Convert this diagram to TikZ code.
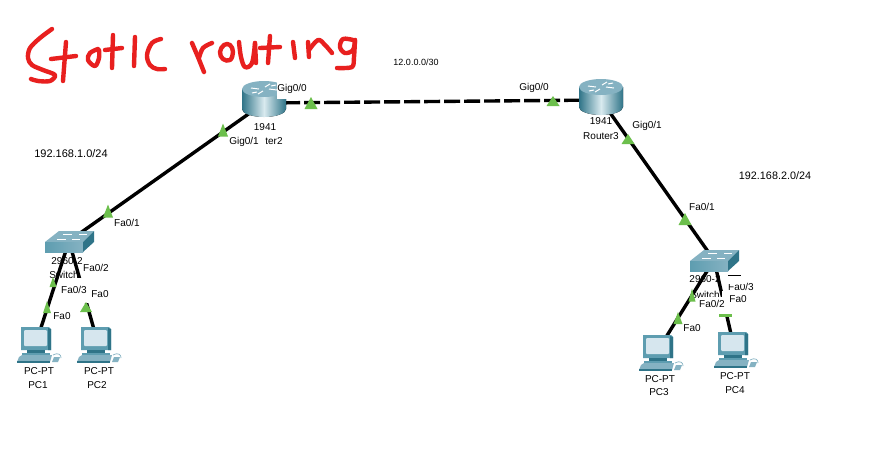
\documentclass[tikz,border=0pt]{standalone}
\usepackage{fontspec}
\setmainfont{Liberation Sans}
\definecolor{inkred}{HTML}{E8201F}
\definecolor{tri}{HTML}{6CBF4C}
\definecolor{teal1}{HTML}{2F7488}
\definecolor{teal2}{HTML}{5E9DB0}
\definecolor{teal3}{HTML}{85B2C2}
\definecolor{screen}{HTML}{D6E6EE}
\definecolor{light}{HTML}{D9EAEF}
\tikzset{
  x=1pt,y=-1pt,
  ink/.style={draw=inkred,line width=4.4pt,line cap=round,line join=round},
  link/.style={draw=black,line width=3.4pt},
  dashlink/.style={draw=black,line width=3.4pt,dash pattern=on 16pt off 4pt},
  anchorpt/.style={inner sep=0pt,minimum size=0pt},
  lbl/.style={font=\fontsize{10}{12}\selectfont,text=black,inner sep=0.5pt,fill=white},
  bare/.style={font=\fontsize{10}{12}\selectfont,text=black,inner sep=0.5pt},
  port/.style={fill=tri,draw=none},
  router/.pic={
    \fill[left color=teal1,right color=teal1,middle color=light,shading angle=90]
      (-22,-8) -- (-22,12) arc[start angle=180,end angle=360,x radius=22pt,y radius=8pt] -- (22,-8) -- cycle;
    \fill[teal3] (0,-8) ellipse[x radius=22pt,y radius=8pt];
    \draw[white,line width=1pt] (-13,-9) -- (-5,-8) (13,-7) -- (5,-8) (-6,-3) -- (-1,-6) (6,-13) -- (1,-10) (-12,-4) -- (-7,-5) (12,-12) -- (7,-11);
  },
  switchicon/.pic={
    \fill[teal3] (-24,1) -- (-10,-10) -- (25,-10) -- (14,1) -- cycle;
    \fill[left color=teal2,right color=teal3] (-24,1) rectangle (14,11);
    \fill[teal1] (14,1) -- (25,-10) -- (25,1) -- (14,11) -- cycle;
    \draw[white,line width=0.8pt] (-12,-2) -- (-3,-2) (-6,-7) -- (3,-7) (3,-2) -- (11,-2) (10,-7) -- (18,-7);
  },
  pcicon/.pic={
    \fill[teal2] (0,0) -- (28,0) -- (30,2) -- (30,23) -- (0,23) -- cycle;
    \fill[teal1] (27,1) -- (30,2) -- (30,23) -- (27,23) -- cycle;
    \fill[screen,rounded corners=1pt] (3,3) rectangle (26,19);
    \fill[teal1] (6,23) rectangle (24,26);
    \fill[teal2] (1,26) rectangle (29,29);
    \fill[teal3] (-2,30) -- (1,28) -- (31,28) -- (29,35) -- (-4,35) -- cycle;
    \fill[teal1] (-4,34) rectangle (29,35.5);
    \draw[teal3,line width=0.7pt] (32,28) .. controls (38,25) and (40,28) .. (40,31);
    \fill[teal3] (33,30) -- (39,30) -- (37,35) -- (31,35) -- cycle;
  },
}
\begin{document}
\begin{tikzpicture}
\useasboundingbox (0,0) rectangle (888,467);
\fill[white] (0,0) rectangle (888,467);

% handwritten title
\draw[ink] plot[smooth,tension=0.55] coordinates {(52,29) (40,38) (30,48) (28,58) (32,65) (43,70) (55,75) (50,81) (38,81) (31,79)};
\draw[ink] (66,42) -- (63,81) (51,59) -- (76,56);
\draw[ink] plot[smooth,tension=0.6] coordinates {(98,49) (90,53) (88,60) (95,66) (99,58) (99,50)};
\draw[ink] (113,35) -- (112,68) (105,50) -- (122,48);
\draw[ink] (135,37) -- (134,66);
\draw[ink] plot[smooth,tension=0.6] coordinates {(161,39) (152,43) (147,55) (150,65) (157,69) (165,69)};
\draw[ink] (192,43) -- (198,57) -- (204,72);
\draw[ink] plot[smooth,tension=0.6] coordinates {(199,58) (203,48) (212,43)};
\draw[ink] plot[smooth cycle,tension=0.7] coordinates {(224,45) (220,52) (223,59) (230,60) (233,52) (230,45)};
\draw[ink] plot[smooth,tension=0.6] coordinates {(239,42) (241,57) (245,67) (252,63) (255,43)};
\draw[ink] (255,43) -- (256,63);
\draw[ink] (270,36) -- (268,63) (260,48) -- (280,47);
\draw[ink] (293,42) -- (295,58);
\draw[ink] (308,42) -- (309,57);
\draw[ink] plot[smooth,tension=0.6] coordinates {(309,50) (318,40) (325,45) (332,53)};
\draw[ink] plot[smooth,tension=0.6] coordinates {(353,40) (343,39) (340,47) (345,53) (353,50) (355,40)};
\draw[ink] plot[smooth,tension=0.5] coordinates {(355,40) (354,57) (352,67) (337,68)};

% device anchors
\node[anchorpt] (r1) at (264,103) {};
\node[anchorpt] (r2) at (601,100) {};
\node[anchorpt] (sw1) at (69,241) {};
\node[anchorpt] (sw2) at (714,260) {};
\node[anchorpt] (pc1) at (37,340) {};
\node[anchorpt] (pc2) at (97,340) {};
\node[anchorpt] (pc3) at (658,350) {};
\node[anchorpt] (pc4) at (734,347) {};

% labels under the cables
\node[bare] (t2960a) at (67,261) {2960-2};
\node[bare] (tsw1) at (64,275) {Switch};
\node[bare] (t2960b) at (705,279) {2960-2};
\node[bare] (tsw2) at (705,295) {Switch};

% connectors
\draw[link] (r1) -- (sw1);
\draw[link] (r2) -- (sw2);
\draw[dashlink] (r1) -- (r2);
\draw[link] (sw1) -- (pc1);
\draw[link] (sw1) -- (pc2);
\draw[link] (sw2) -- (pc3);
\draw[link] (sw2) -- (pc4);

% devices
\pic at (264,97) {router};
\pic at (601,95) {router};
\pic at (69,241) {switchicon};
\pic at (714,260) {switchicon};
\pic at (21,327) {pcicon};
\pic at (81,327) {pcicon};
\pic at (643,335) {pcicon};
\pic at (718,332) {pcicon};

% white label backgrounds hiding cable stretches
\fill[white] (76,278) rectangle (97,303);
\fill[white] (722,291) rectangle (732,314);

% port markers: x / y of centre / half width / half height
\foreach \px/\py/\pw/\ph in {223/130/5/6.5,108/211/5/6.5,53/282/3.5/5,47/307/4/6,86/307/6/5,685/219/6.5/6,692/295/3.5/6.5,678/318/4.5/6,628/139/6.5/5,311/103/6.5/6,553/101/6.5/5}
  \fill[port] (\px-\pw,\py+\ph) -- (\px,\py-\ph) -- (\px+\pw,\py+\ph) -- cycle;
\fill[port] (719,314) rectangle (732,316.5);

% labels
\node[bare,font=\fontsize{9}{11}\selectfont] (n1) at (416,62) {12.0.0.0/30};
\node[bare,font=\fontsize{11}{13}\selectfont] (n2) at (71,154) {192.168.1.0/24};
\node[bare,font=\fontsize{10.8}{13}\selectfont] (n3) at (775,176) {192.168.2.0/24};
\node[lbl,inner ysep=5pt,yshift=1pt] (g1) at (292,90) {Gig0/0};
\node[bare] (g2) at (534,88) {Gig0/0};
\node[bare] (m1) at (265,127) {1941};
\node[bare] (tr2) at (274,141) {ter2};
\node[bare] (g3) at (244,142) {Gig0/1};
\node[bare] (m2) at (601,121) {1941};
\node[bare] (tr3) at (601,136) {Router3};
\node[bare] (g4) at (647,126) {Gig0/1};
\node[bare] (f1) at (127,223) {Fa0/1};
\node[bare] (f6) at (702,207) {Fa0/1};

\node[lbl] (f2) at (100,294) {Fa0};
\node[lbl] (f3) at (96,268) {Fa0/2};
\node[lbl,inner ysep=2pt] (f4) at (74,290) {Fa0/3};
\node[bare] (f5) at (62,316) {Fa0};
\node[lbl] (f7) at (741,287) {Fa0/3};
\fill[white] (727,276.5) rectangle (746,284);
\draw[black,line width=0.8pt] (728,275.5) -- (741,275.5);
\node[lbl,inner ysep=2pt] (f8) at (738,299) {Fa0};
\node[lbl,inner ysep=3pt] (f9) at (712,304) {Fa0/2};
\node[bare] (f10) at (692,328) {Fa0};

\node[bare] (p1) at (39,371) {PC-PT};
\node[bare] (p1b) at (38,385) {PC1};
\node[bare] (p2) at (99,371) {PC-PT};
\node[bare] (p2b) at (97,385) {PC2};
\node[bare] (p3) at (660,379) {PC-PT};
\node[bare] (p3b) at (659,392) {PC3};
\node[bare] (p4) at (735,376) {PC-PT};
\node[bare] (p4b) at (735,390) {PC4};
\end{tikzpicture}
\end{document}
